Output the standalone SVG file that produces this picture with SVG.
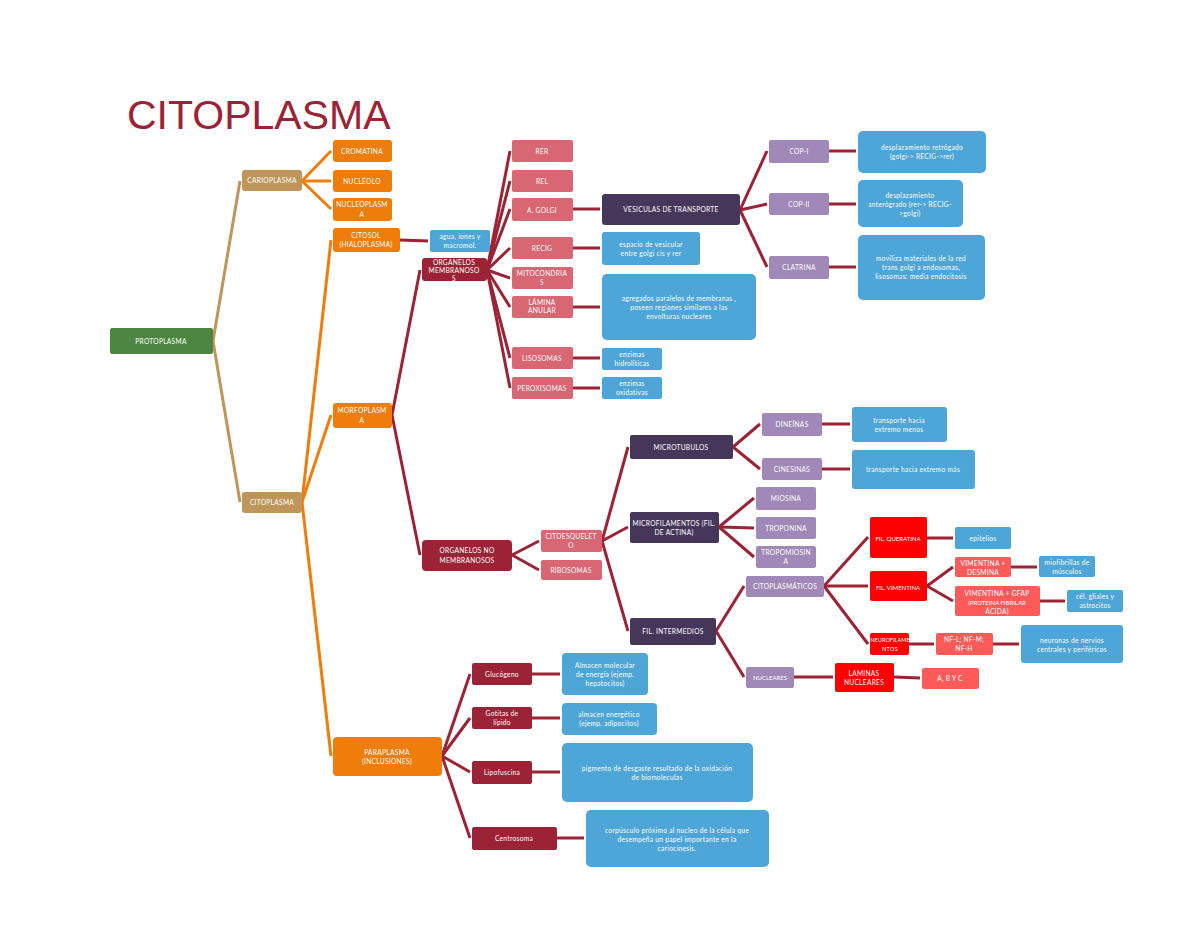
<svg xmlns="http://www.w3.org/2000/svg" width="1200" height="927" viewBox="0 0 1200 927">
<style>
text{font-family:Lato,"DejaVu Sans",sans-serif;font-size:6.6px;fill:#fff;text-anchor:middle;letter-spacing:0.3px}
.g{fill:#4e8542}.t{fill:#c0955a}.o{fill:#ef7d0c}.b{fill:#4ea5d8}.d{fill:#9b2335}.p{fill:#d96673}.v{fill:#46365a}.l{fill:#a088b8}.r{fill:#ff0000}.s{fill:#ff5a5a}
#conn line{stroke:#9b2335;stroke-width:3}
#conn .ct{stroke:#c0955a}#conn .co{stroke:#ef7d0c}
</style>
<rect width="1200" height="927" fill="#fff"/>
<text x="127" y="129" style="font-family:'Liberation Sans',sans-serif;font-size:41px;fill:#9b2335;text-anchor:start;letter-spacing:0">CITOPLASMA</text>
<g id="conn">
<line class="ct" x1="213" y1="341" x2="240" y2="181"/><line class="ct" x1="213" y1="341" x2="240" y2="502"/>
<line class="co" x1="302" y1="181" x2="331" y2="151"/><line class="co" x1="302" y1="181" x2="331" y2="181"/><line class="co" x1="302" y1="181" x2="331" y2="209"/>
<line class="co" x1="302" y1="502" x2="331" y2="240"/><line class="co" x1="302" y1="502" x2="331" y2="415"/><line class="co" x1="302" y1="502" x2="331" y2="756"/>
<line x1="400" y1="240" x2="428" y2="241"/>
<line x1="392" y1="415" x2="420" y2="270"/><line x1="392" y1="415" x2="420" y2="555"/>
<line x1="487" y1="270" x2="510" y2="151"/><line x1="487" y1="270" x2="510" y2="181"/><line x1="487" y1="270" x2="510" y2="209"/><line x1="487" y1="270" x2="510" y2="248"/><line x1="487" y1="270" x2="510" y2="278"/><line x1="487" y1="270" x2="510" y2="307"/><line x1="487" y1="270" x2="510" y2="358"/><line x1="487" y1="270" x2="510" y2="388"/>
<line x1="573" y1="209" x2="600" y2="209"/><line x1="573" y1="248" x2="600" y2="248"/><line x1="573" y1="307" x2="600" y2="307"/><line x1="573" y1="358" x2="600" y2="358"/><line x1="573" y1="388" x2="600" y2="388"/>
<line x1="740" y1="210" x2="767" y2="151"/><line x1="740" y1="210" x2="767" y2="204"/><line x1="740" y1="210" x2="767" y2="267"/>
<line x1="829" y1="151" x2="856" y2="151"/><line x1="829" y1="204" x2="856" y2="204"/><line x1="829" y1="267" x2="856" y2="267"/>
<line x1="512" y1="555" x2="539" y2="541"/><line x1="512" y1="555" x2="539" y2="570"/>
<line x1="602" y1="541" x2="628" y2="447"/><line x1="602" y1="541" x2="628" y2="527"/><line x1="602" y1="541" x2="628" y2="631"/>
<line x1="733" y1="447" x2="760" y2="424"/><line x1="733" y1="447" x2="760" y2="469"/>
<line x1="822" y1="424" x2="850" y2="424"/><line x1="822" y1="469" x2="850" y2="469"/>
<line x1="719" y1="527" x2="754" y2="498"/><line x1="719" y1="527" x2="754" y2="528"/><line x1="719" y1="527" x2="754" y2="557"/>
<line x1="716" y1="631" x2="744" y2="586"/><line x1="716" y1="631" x2="744" y2="677"/>
<line x1="824" y1="586" x2="868" y2="537"/><line x1="824" y1="586" x2="868" y2="586"/><line x1="824" y1="586" x2="868" y2="644"/>
<line x1="927" y1="538" x2="953" y2="538"/><line x1="927" y1="586" x2="953" y2="567"/><line x1="927" y1="586" x2="953" y2="601"/>
<line x1="909" y1="644" x2="934" y2="644"/><line x1="993" y1="644" x2="1019" y2="644"/>
<line x1="1011" y1="567" x2="1037" y2="567"/><line x1="1040" y1="601" x2="1065" y2="601"/>
<line x1="794" y1="677" x2="833" y2="677"/><line x1="894" y1="677" x2="920" y2="678"/>
<line x1="442" y1="756" x2="470" y2="674"/><line x1="442" y1="756" x2="470" y2="718"/><line x1="442" y1="756" x2="470" y2="772"/><line x1="442" y1="756" x2="470" y2="838"/>
<line x1="532" y1="674" x2="560" y2="674"/><line x1="532" y1="718" x2="560" y2="718"/><line x1="532" y1="772" x2="560" y2="772"/><line x1="557" y1="838" x2="584" y2="838"/>
</g>
<g id="protoplasma"><rect class="g" x="110" y="328" width="103" height="26" rx="2"/><text x="161" y="344">PROTOPLASMA</text></g>
<g id="carioplasma"><rect class="t" x="242" y="170" width="60" height="21" rx="3"/><text x="272" y="183">CARIOPLASMA</text></g>
<g id="citoplasma"><rect class="t" x="242" y="492" width="60" height="21" rx="3"/><text x="272" y="505">CITOPLASMA</text></g>
<g id="cromatina"><rect class="o" x="333" y="140" width="59" height="22" rx="3"/><text x="362" y="154">CROMATINA</text></g>
<g id="nucleolo"><rect class="o" x="333" y="170" width="59" height="22" rx="3"/><text x="362" y="184">NUCLÉOLO</text></g>
<g id="nucleoplasma"><rect class="o" x="333" y="198" width="59" height="23" rx="3"/><text x="362" y="207">NUCLEOPLASM</text><text x="362" y="217">A</text></g>
<g id="citosol"><rect class="o" x="333" y="228" width="67" height="24" rx="3"/><text x="366" y="238">CITOSOL</text><text x="366" y="247">(HIALOPLASMA)</text></g>
<g id="agua"><rect class="b" x="430" y="230" width="60" height="22" rx="2"/><text x="460" y="239">agua, iones y</text><text x="460" y="248">macromol.</text></g>
<g id="org-memb"><rect class="d" x="422" y="258" width="65" height="23" rx="3"/><text x="454" y="265">ORGANELOS</text><text x="454" y="273">MEMBRANOSO</text><text x="454" y="281">S</text></g>
<g id="morfoplasma"><rect class="o" x="333" y="403" width="59" height="25" rx="3"/><text x="362" y="413">MORFOPLASM</text><text x="362" y="423">A</text></g>
<g id="org-nomemb"><rect class="d" x="422" y="540" width="90" height="31" rx="4"/><text x="467" y="553">ORGANELOS NO</text><text x="467" y="563">MEMBRANOSOS</text></g>
<g id="paraplasma"><rect class="o" x="333" y="737" width="109" height="39" rx="4"/><text x="387" y="755">PARAPLASMA</text><text x="387" y="764">(INCLUSIONES)</text></g>
<g id="rer"><rect class="p" x="512" y="140" width="61" height="22" rx="2"/><text x="542" y="154">RER</text></g>
<g id="rel"><rect class="p" x="512" y="170" width="61" height="22" rx="2"/><text x="542" y="184">REL</text></g>
<g id="golgi"><rect class="p" x="512" y="198" width="61" height="23" rx="2"/><text x="542" y="213">A. GOLGI</text></g>
<g id="recig"><rect class="p" x="512" y="237" width="61" height="22" rx="2"/><text x="542" y="251">RECIG</text></g>
<g id="mito"><rect class="p" x="512" y="267" width="61" height="22" rx="2"/><text x="542" y="276">MITOCONDRIA</text><text x="542" y="285">S</text></g>
<g id="lamina"><rect class="p" x="512" y="296" width="61" height="22" rx="2"/><text x="542" y="305">LÁMINA</text><text x="542" y="313">ANULAR</text></g>
<g id="lisosomas"><rect class="p" x="512" y="347" width="61" height="22" rx="2"/><text x="542" y="361">LISOSOMAS</text></g>
<g id="peroxisomas"><rect class="p" x="512" y="377" width="61" height="22" rx="2"/><text x="542" y="391">PEROXISOMAS</text></g>
<g id="vesiculas"><rect class="v" x="602" y="194" width="138" height="31" rx="3"/><text x="671" y="212">VESICULAS DE TRANSPORTE</text></g>
<g id="espacio"><rect class="b" x="602" y="232" width="98" height="33" rx="3"/><text x="651" y="247">espacio de vesicular</text><text x="651" y="256">entre golgi cis y rer</text></g>
<g id="agregados"><rect class="b" x="602" y="274" width="154" height="66" rx="5"/><text x="679" y="301">agregados paralelos de membranas ,</text><text x="679" y="310">poseen regiones similares a las</text><text x="679" y="319">envolturas nucleares</text></g>
<g id="hidroliticas"><rect class="b" x="602" y="348" width="60" height="22" rx="2"/><text x="632" y="357">enzimas</text><text x="632" y="366">hidrolíticas</text></g>
<g id="oxidativas"><rect class="b" x="602" y="377" width="60" height="22" rx="2"/><text x="632" y="386">enzimas</text><text x="632" y="395">oxidativas</text></g>
<g id="cop1"><rect class="l" x="769" y="140" width="60" height="23" rx="2"/><text x="799" y="154">COP-I</text></g>
<g id="cop2"><rect class="l" x="769" y="193" width="60" height="22" rx="2"/><text x="799" y="207">COP-II</text></g>
<g id="clatrina"><rect class="l" x="769" y="256" width="60" height="23" rx="2"/><text x="799" y="270">CLATRINA</text></g>
<g id="retrogrado"><rect class="b" x="858" y="131" width="128" height="42" rx="5"/><text x="922" y="150">desplazamiento retrógado</text><text x="922" y="159">(golgi-&gt; RECIG-&gt;rer)</text></g>
<g id="anterogrado"><rect class="b" x="858" y="180" width="105" height="47" rx="5"/><text x="910" y="198">desplazamiento</text><text x="910" y="207">anterógrado (rer-&gt; RECIG-</text><text x="910" y="216">&gt;golgi)</text></g>
<g id="movilizar"><rect class="b" x="858" y="235" width="127" height="65" rx="5"/><text x="921" y="261">moviliza materiales de la red</text><text x="921" y="270">trans golgi a endosomas,</text><text x="921" y="279">lisosomas: media endocitosis</text></g>
<g id="citoesqueleto"><rect class="p" x="541" y="530" width="61" height="22" rx="2"/><text x="571" y="539">CITOESQUELET</text><text x="571" y="548">O</text></g>
<g id="ribosomas"><rect class="p" x="541" y="560" width="61" height="20" rx="2"/><text x="571" y="573">RIBOSOMAS</text></g>
<g id="microtubulos"><rect class="v" x="630" y="435" width="103" height="24" rx="2"/><text x="681" y="450">MICROTUBULOS</text></g>
<g id="microfilamentos"><rect class="v" x="630" y="512" width="89" height="31" rx="2"/><text x="674" y="526">MICROFILAMENTOS (FIL.</text><text x="674" y="535">DE ACTINA)</text></g>
<g id="intermedios"><rect class="v" x="630" y="618" width="86" height="27" rx="2"/><text x="673" y="634">FIL. INTERMEDIOS</text></g>
<g id="dineinas"><rect class="l" x="762" y="413" width="60" height="23" rx="2"/><text x="792" y="427">DINEÍNAS</text></g>
<g id="cinesinas"><rect class="l" x="762" y="458" width="60" height="22" rx="2"/><text x="792" y="472">CINESINAS</text></g>
<g id="menos"><rect class="b" x="852" y="407" width="95" height="35" rx="3"/><text x="899" y="423">transporte hacia</text><text x="899" y="432">extremo menos</text></g>
<g id="mas"><rect class="b" x="852" y="450" width="123" height="39" rx="3"/><text x="913" y="472">transporte hacia extremo más</text></g>
<g id="miosina"><rect class="l" x="756" y="487" width="60" height="23" rx="2"/><text x="786" y="501">MIOSINA</text></g>
<g id="troponina"><rect class="l" x="756" y="517" width="60" height="22" rx="2"/><text x="786" y="531">TROPONINA</text></g>
<g id="tropomiosina"><rect class="l" x="756" y="546" width="60" height="22" rx="2"/><text x="786" y="555">TROPOMIOSIN</text><text x="786" y="564">A</text></g>
<g id="citoplasmaticos"><rect class="l" x="746" y="576" width="78" height="21" rx="2"/><text x="785" y="589">CITOPLASMÁTICOS</text></g>
<g id="nucleares"><rect class="l" x="746" y="667" width="48" height="21" rx="2"/><text x="770" y="680" style="font-size:6px;letter-spacing:0">NUCLEARES</text></g>
<g id="queratina"><rect class="r" x="870" y="517" width="57" height="41" rx="2"/><text x="898" y="541" style="font-size:6px;letter-spacing:0">FIL. QUERATINA</text></g>
<g id="vimentina"><rect class="r" x="870" y="571" width="57" height="30" rx="2"/><text x="898" y="590" style="font-size:6px;letter-spacing:0">FIL. VIMENTINA</text></g>
<g id="neurofilamentos"><rect class="r" x="870" y="633" width="39" height="22" rx="2"/><text x="890" y="642" style="font-size:5.6px;letter-spacing:0">NEUROFILAME</text><text x="890" y="651" style="font-size:5.6px">NTOS</text></g>
<g id="epitelios"><rect class="b" x="955" y="527" width="56" height="22" rx="2"/><text x="983" y="541">epitelios</text></g>
<g id="vim-desmina"><rect class="s" x="955" y="557" width="56" height="20" rx="2"/><text x="983" y="566">VIMENTINA +</text><text x="983" y="575">DESMINA</text></g>
<g id="vim-gfap"><rect class="s" x="955" y="586" width="85" height="30" rx="2"/><text x="997" y="596">VIMENTINA + GFAP</text><text x="997" y="605" style="font-size:6px;letter-spacing:0">(PROTEINA FIBRILAR</text><text x="997" y="614">ÁCIDA)</text></g>
<g id="nf"><rect class="s" x="936" y="633" width="57" height="22" rx="2"/><text x="964" y="642">NF-L; NF-M;</text><text x="964" y="651">NF-H</text></g>
<g id="miofibrillas"><rect class="b" x="1039" y="556" width="56" height="21" rx="2"/><text x="1067" y="565">miofibrillas de</text><text x="1067" y="574">músculos</text></g>
<g id="gliales"><rect class="b" x="1067" y="590" width="56" height="22" rx="2"/><text x="1095" y="599">cél. gliales y</text><text x="1095" y="608">astrocitos</text></g>
<g id="neuronas"><rect class="b" x="1021" y="625" width="102" height="38" rx="3"/><text x="1072" y="643">neuronas de nervios</text><text x="1072" y="652">centrales y periféricos</text></g>
<g id="laminas"><rect class="r" x="835" y="663" width="59" height="29" rx="2"/><text x="864" y="676">LAMINAS</text><text x="864" y="685">NUCLEARES</text></g>
<g id="abc"><rect class="s" x="922" y="668" width="57" height="21" rx="2"/><text x="950" y="681">A, B Y C</text></g>
<g id="glucogeno"><rect class="d" x="472" y="663" width="60" height="22" rx="2"/><text x="502" y="677">Glucógeno</text></g>
<g id="gotitas"><rect class="d" x="472" y="707" width="60" height="22" rx="2"/><text x="502" y="716">Gotitas de</text><text x="502" y="725">lípido</text></g>
<g id="lipofuscina"><rect class="d" x="472" y="761" width="60" height="23" rx="2"/><text x="502" y="775">Lipofuscina</text></g>
<g id="centrosoma"><rect class="d" x="472" y="827" width="85" height="23" rx="2"/><text x="514" y="841">Centrosoma</text></g>
<g id="almacen-mol"><rect class="b" x="562" y="653" width="86" height="42" rx="4"/><text x="605" y="668">Almacen molecular</text><text x="605" y="677">de energía (ejemp.</text><text x="605" y="686">hepatocitos)</text></g>
<g id="almacen-en"><rect class="b" x="562" y="703" width="95" height="32" rx="4"/><text x="609" y="717">almacen energético</text><text x="609" y="726">(ejemp. adipocitos)</text></g>
<g id="pigmento"><rect class="b" x="562" y="743" width="191" height="59" rx="5"/><text x="657" y="771">pigmento de desgaste resultado de la oxidación</text><text x="657" y="780">de biomoleculas</text></g>
<g id="corpusculo"><rect class="b" x="586" y="810" width="183" height="57" rx="5"/><text x="677" y="833">corpúsculo próximo al nucleo de la célula que</text><text x="677" y="842">desempeña un papel importante en la</text><text x="677" y="851">cariocinesis.</text></g>
</svg>
